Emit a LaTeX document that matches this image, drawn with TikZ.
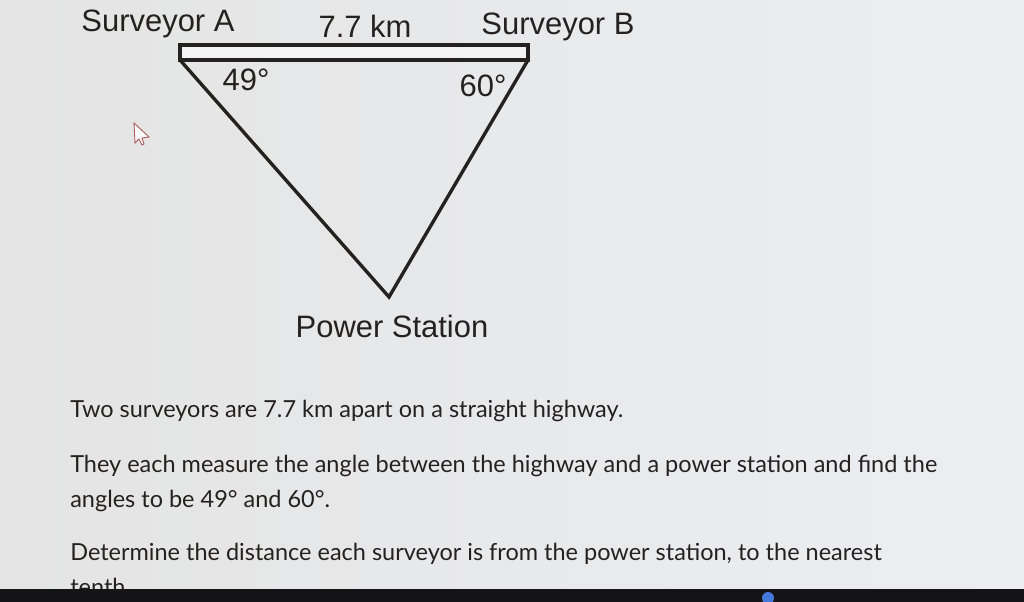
\documentclass[tikz,border=0pt]{standalone}
\usepackage{fontspec}
\setmainfont{Lato}
\newfontfamily\diagfont{Liberation Sans}
\usepackage{tikz}
\usetikzlibrary{positioning}
\definecolor{screen}{RGB}{228,228,228}
\definecolor{screenr}{RGB}{236,238,241}
\definecolor{ink}{RGB}{38,33,33}
\definecolor{bezel}{RGB}{20,20,22}
\definecolor{dot}{RGB}{70,120,220}
\tikzstyle{tag}=[font=\diagfont\fontsize{22}{26}\selectfont,text=ink,inner sep=0pt,anchor=base]
\tikzstyle{para}=[font=\fontsize{16.7}{20}\selectfont,text=ink,inner sep=0pt,anchor=base west]
\tikzstyle{leg}=[draw=ink,line width=2.4pt,line join=miter]
\tikzstyle{road}=[draw=ink,line width=2.4pt,fill=white!55!screen]
\tikzstyle{pointer}=[draw=red!35!gray,line width=0.6pt,fill=white!85!screen]

\begin{document}
\begin{tikzpicture}[x=0.025cm,y=-0.025cm]
        \shade[left color=screen,right color=screenr] (0,0) rectangle (1024,602);
        \useasboundingbox (0,0) rectangle (1024,602);

        % highway and the two sight lines
        \coordinate (ra) at (180,45);
        \coordinate (sa) at (180,60);
        \coordinate (sb) at (528,60);
        \coordinate (ps) at (389,297);
        \draw[road] (ra) rectangle (sb);
        \draw[leg] (sa) -- (ps) -- (sb);

        \node[tag] (lsa) at (158,32) {Surveyor A};
        \node[tag] (ldist) at (365,38) {7.7 km};
        \node[tag] (lsb) at (558,35) {Surveyor B};
        \node[tag] (aa) at (246,91) {49°};
        \node[tag] (ab) at (483,97) {60°};
        \node[tag] (lps) at (392,337) {Power Station};

        % mouse pointer
        \draw[pointer] (134,123) -- (135,143) -- (139,139) -- (142,145) -- (144,144) -- (142,138) -- (149,137) -- cycle;

        \node[para] (t1) at (70,417) {Two surveyors are 7.7 km apart on a straight highway.};
        \node[para] (t2) at (70,472) {They each measure the angle between the highway and a power station and find the};
        \node[para] (t3) at (70,507) {angles to be 49° and 60°.};
        \node[para] (t4) at (70,560) {Determine the distance each surveyor is from the power station, to the nearest};
        \node[para] (t5) at (70,595) {tenth};

        \fill[bezel] (0,589) rectangle (1024,602);
        \fill[dot] (768,598) circle (6);
\end{tikzpicture}
\end{document}
